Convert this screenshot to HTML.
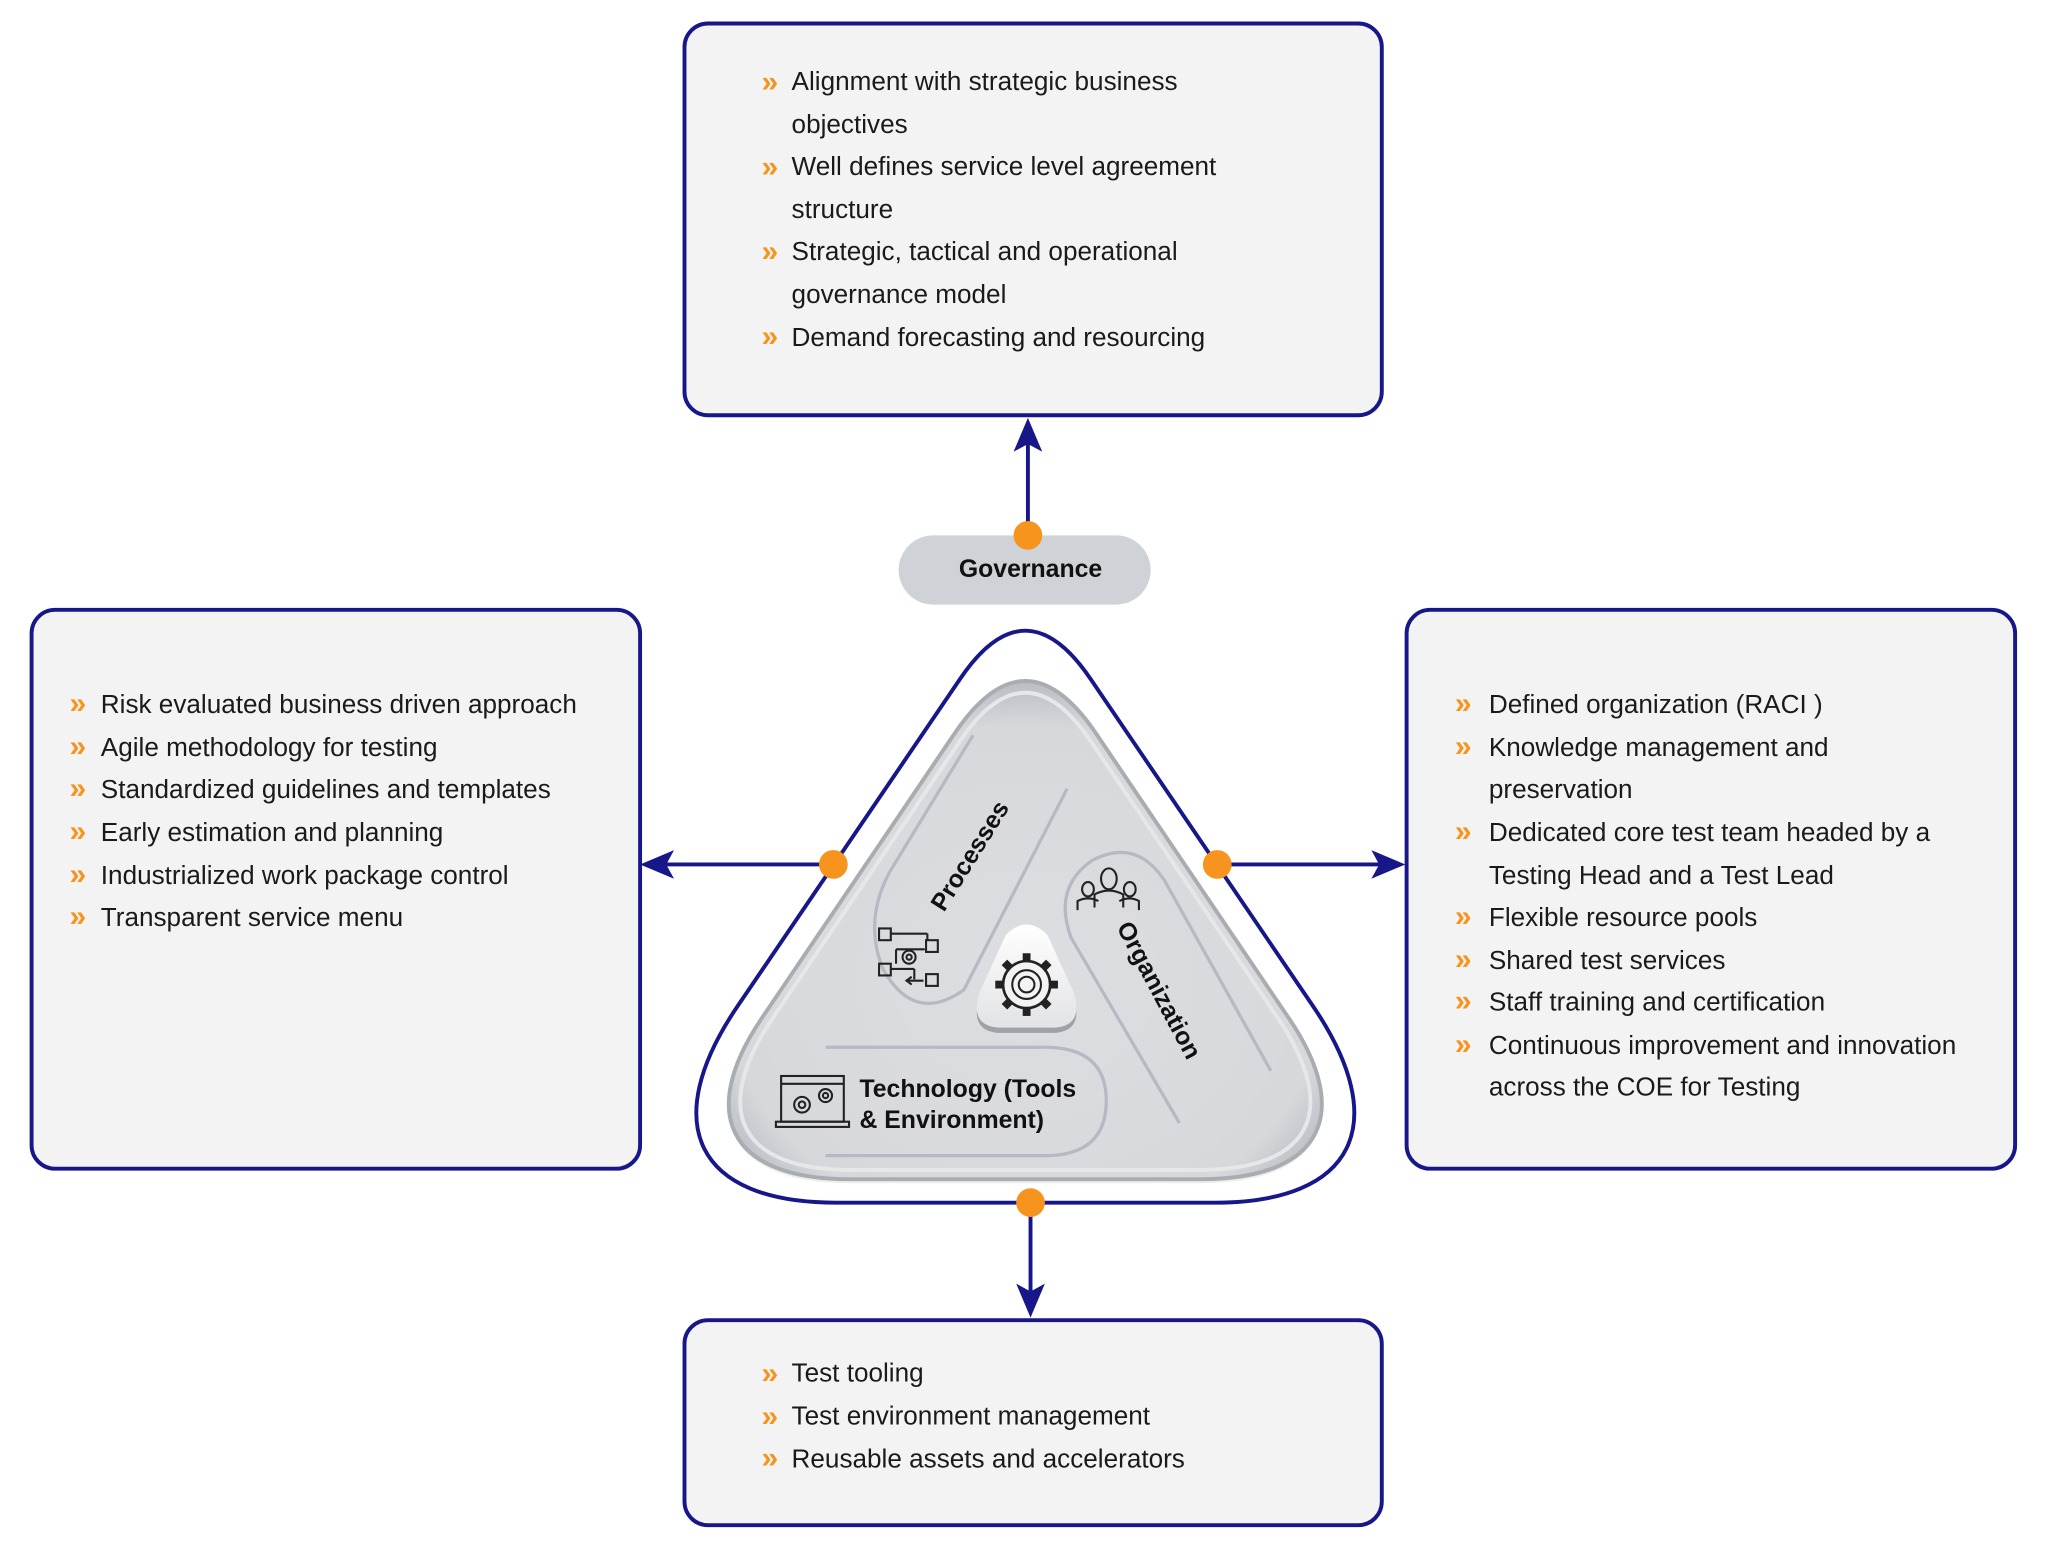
<!DOCTYPE html>
<html><head><meta charset="utf-8"><style>
html,body{margin:0;padding:0;background:#fff;}
svg{display:block;}
text{font-family:"Liberation Sans",sans-serif;}
.t{font-size:20px;fill:#1a1a1a;}
.b{font-size:23px;fill:#f7941d;font-weight:bold;}
.bx{fill:#f3f3f3;stroke:#17178a;stroke-width:3;}
.ln{stroke:#17178a;stroke-width:3;fill:none;}
.ah{fill:#17178a;}
.dot{fill:#f7941d;}
.dv{stroke:#b5bac2;stroke-width:2.5;fill:none;}
.ic{stroke:#222;stroke-width:1.6;fill:none;}
</style></head><body>
<svg width="2048" height="1550" viewBox="0 0 1568 1187" xmlns="http://www.w3.org/2000/svg">
<defs>
<radialGradient id="g1" cx="50%" cy="60%" r="60%">
<stop offset="0" stop-color="#dcdee1"/><stop offset="0.85" stop-color="#d6d8dc"/><stop offset="1" stop-color="#b9bcc1"/>
</radialGradient>
<linearGradient id="g2" x1="0" y1="0" x2="0" y2="1">
<stop offset="0" stop-color="#ffffff"/><stop offset="1" stop-color="#e2e3e5"/>
</linearGradient>
</defs>

<rect class="bx" x="524" y="18" width="534" height="300" rx="18"/>
<rect class="bx" x="24" y="467" width="466" height="428" rx="18"/>
<rect class="bx" x="1077" y="467" width="466" height="428" rx="18"/>
<rect class="bx" x="524" y="1011" width="534" height="157" rx="18"/>

<g>
<text class="b" x="583" y="70">»</text><text class="t" x="606" y="69">Alignment with strategic business</text>
<text class="t" x="606" y="102">objectives</text>
<text class="b" x="583" y="135">»</text><text class="t" x="606" y="134">Well defines service level agreement</text>
<text class="t" x="606" y="167">structure</text>
<text class="b" x="583" y="200">»</text><text class="t" x="606" y="199">Strategic, tactical and operational</text>
<text class="t" x="606" y="232">governance model</text>
<text class="b" x="583" y="265">»</text><text class="t" x="606" y="265">Demand forecasting and resourcing</text>
</g>
<g>
<text class="b" x="53" y="546">»</text><text class="t" x="77" y="546">Risk evaluated business driven approach</text>
<text class="b" x="53" y="579">»</text><text class="t" x="77" y="579">Agile methodology for testing</text>
<text class="b" x="53" y="611">»</text><text class="t" x="77" y="611">Standardized guidelines and templates</text>
<text class="b" x="53" y="644">»</text><text class="t" x="77" y="644">Early estimation and planning</text>
<text class="b" x="53" y="677">»</text><text class="t" x="77" y="677">Industrialized work package control</text>
<text class="b" x="53" y="709">»</text><text class="t" x="77" y="709">Transparent service menu</text>
</g>
<g>
<text class="b" x="1114" y="546">»</text><text class="t" x="1140" y="546">Defined organization (RACI )</text>
<text class="b" x="1114" y="579">»</text><text class="t" x="1140" y="579">Knowledge management and</text>
<text class="t" x="1140" y="611">preservation</text>
<text class="b" x="1114" y="644">»</text><text class="t" x="1140" y="644">Dedicated core test team headed by a</text>
<text class="t" x="1140" y="677">Testing Head and a Test Lead</text>
<text class="b" x="1114" y="709">»</text><text class="t" x="1140" y="709">Flexible resource pools</text>
<text class="b" x="1114" y="742">»</text><text class="t" x="1140" y="742">Shared test services</text>
<text class="b" x="1114" y="774">»</text><text class="t" x="1140" y="774">Staff training and certification</text>
<text class="b" x="1114" y="807">»</text><text class="t" x="1140" y="807">Continuous improvement and innovation</text>
<text class="t" x="1140" y="839">across the COE for Testing</text>
</g>
<g>
<text class="b" x="583" y="1059">»</text><text class="t" x="606" y="1058">Test tooling</text>
<text class="b" x="583" y="1092">»</text><text class="t" x="606" y="1091">Test environment management</text>
<text class="b" x="583" y="1124">»</text><text class="t" x="606" y="1124">Reusable assets and accelerators</text>
</g>

<line class="ln" x1="787" y1="410" x2="787" y2="338"/>
<polygon class="ah" points="787,320 776,346 787,340 798,346"/>
<line class="ln" x1="638" y1="662" x2="508" y2="662"/>
<polygon class="ah" points="490,662 516,651 510,662 516,673"/>
<line class="ln" x1="932" y1="662" x2="1058" y2="662"/>
<polygon class="ah" points="1076,662 1050,651 1056,662 1050,673"/>
<line class="ln" x1="789" y1="921" x2="789" y2="992"/>
<polygon class="ah" points="789,1009 778,983 789,989 800,983"/>

<rect x="688" y="410" width="193" height="53" rx="26.5" fill="#cfd2d6"/>
<text x="789" y="442" text-anchor="middle" style="font-size:19px;font-weight:bold;fill:#111;">Governance</text>

<path class="ln" d="M735,520 Q785,446 835,520 L1005,770 C1067,861 1037,921 930,921 L640,921 C533,921 503,861 565,770 Z"/>

<path d="M732,560 Q785,483 838,560 L987,780 C1037,854 1011,903 920,903 L650,903 C559,903 533,854 583,780 Z" fill="#ececec" transform="translate(0,3)"/>
<path d="M732,560 Q785,483 838,560 L987,780 C1037,854 1011,903 920,903 L650,903 C559,903 533,854 583,780 Z" fill="url(#g1)" stroke="#a9acb1" stroke-width="3"/>
<path d="M736,566 Q785,495 834,566 L980,782 C1026,852 1003,896 918,896 L652,896 C567,896 544,852 590,782 Z" fill="none" stroke="#e6e7e9" stroke-width="3"/>

<path class="dv" d="M745,563 L681,668 Q661,705 676,742 Q700,785 738,758 L817,604"/>
<path class="dv" d="M903,860 L820,718 Q806,680 836,659 Q870,641 892,675 L973,820"/>
<path class="dv" d="M632,802 L800,802 Q847,802 847,843 Q847,885 800,885 L632,885"/>

<text x="742" y="662" text-anchor="middle" transform="rotate(-58 742 655)" style="font-size:19px;font-weight:bold;fill:#111;">Processes</text>
<text x="888" y="765" text-anchor="middle" transform="rotate(62 888 758)" style="font-size:19px;font-weight:bold;fill:#111;">Organization</text>
<text x="658" y="840" style="font-size:19px;font-weight:bold;fill:#111;">Technology (Tools</text>
<text x="658" y="864" style="font-size:19px;font-weight:bold;fill:#111;">&amp; Environment)</text>

<path d="M770,716 Q786,700 802,716 L822,760 Q830,785 808,787 L764,787 Q742,785 750,760 Z" fill="#9ea1a6" transform="translate(0,4)"/>
<path d="M770,716 Q786,700 802,716 L822,760 Q830,785 808,787 L764,787 Q742,785 750,760 Z" fill="url(#g2)"/>
<g transform="translate(786,754)">
<g stroke="#222" stroke-width="6">
<line x1="0" y1="-17" x2="0" y2="-24"/><line x1="0" y1="17" x2="0" y2="24"/>
<line x1="-17" y1="0" x2="-24" y2="0"/><line x1="17" y1="0" x2="24" y2="0"/>
<line x1="12" y1="12" x2="17" y2="17"/><line x1="-12" y1="-12" x2="-17" y2="-17"/>
<line x1="12" y1="-12" x2="17" y2="-17"/><line x1="-12" y1="12" x2="-17" y2="17"/>
</g>
<circle r="18" fill="#f3f3f3" stroke="#222" stroke-width="2"/>
<circle r="11" class="ic" stroke-width="2"/><circle r="6" class="ic" stroke-width="2"/>
</g>

<g class="ic">
<rect x="673" y="711" width="9" height="9"/><line x1="682" y1="715" x2="710" y2="715"/><line x1="710" y1="715" x2="710" y2="720"/>
<rect x="709" y="720" width="9" height="9"/>
<circle cx="696" cy="733" r="5"/><circle cx="696" cy="733" r="2"/>
<line x1="686" y1="727" x2="708" y2="727"/><line x1="686" y1="727" x2="686" y2="738"/>
<rect x="673" y="738" width="9" height="9"/><line x1="682" y1="742" x2="700" y2="742"/><line x1="700" y1="742" x2="700" y2="750"/>
<rect x="709" y="746" width="9" height="9"/><line x1="694" y1="751" x2="707" y2="751"/><polyline points="698,748 694,751 698,754"/>
</g>
<g class="ic">
<ellipse cx="849" cy="673" rx="6" ry="8"/><path d="M838,695 L838,685 Q849,679 860,685 L860,695"/>
<ellipse cx="833" cy="681" rx="4.5" ry="5.5"/><path d="M825,697 L825,690 Q833,686 841,690"/>
<ellipse cx="865" cy="681" rx="4.5" ry="5.5"/><path d="M857,690 Q865,686 872,690 L872,697"/>
</g>
<g class="ic">
<rect x="598" y="824" width="48" height="35"/><line x1="598" y1="830" x2="646" y2="830"/>
<rect x="594" y="859" width="56" height="4"/>
<circle cx="614" cy="846" r="6"/><circle cx="614" cy="846" r="2.5"/>
<circle cx="632" cy="839" r="5"/><circle cx="632" cy="839" r="2"/>
</g>

<circle class="dot" cx="787" cy="410" r="11"/>
<circle class="dot" cx="638" cy="662" r="11"/>
<circle class="dot" cx="932" cy="662" r="11"/>
<circle class="dot" cx="789" cy="921" r="11"/>
</svg>
</body></html>
